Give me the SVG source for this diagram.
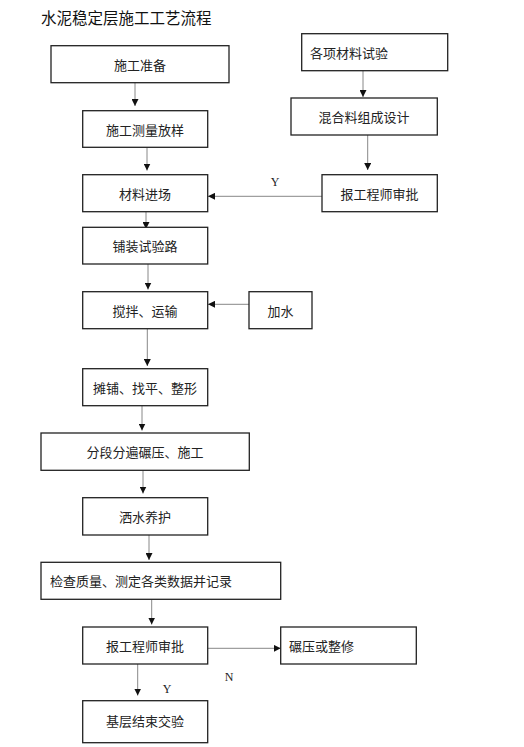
<svg xmlns="http://www.w3.org/2000/svg" width="524" height="747" viewBox="0 0 524 747">
<style>
.box{fill:#fff;stroke:#222;stroke-width:1.3}
.t{font-family:"Noto Sans CJK SC",sans-serif;font-size:13px;fill:#222;dominant-baseline:central}
.c{text-anchor:middle}
.lbl{font-family:"Liberation Serif",serif;font-size:12px;fill:#222;text-anchor:middle;dominant-baseline:central}
.ln{stroke:#888;stroke-width:1;fill:none;marker-end:url(#ah)}
.title{font-family:"Noto Sans CJK SC",sans-serif;font-size:15.5px;fill:#111}
</style>
<defs>
<marker id="ah" markerWidth="7" markerHeight="7" refX="7" refY="3.5" orient="auto" markerUnits="userSpaceOnUse">
<path d="M0,0 L7,3.5 L0,7 Z" fill="#111"/>
</marker>
</defs>
<rect width="524" height="747" fill="#fff"/>
<text class="title" x="41" y="24">水泥稳定层施工工艺流程</text>

<g id="connectors">
<line class="ln" x1="135" y1="82.7" x2="135" y2="106"/>
<line class="ln" x1="147" y1="147.3" x2="147" y2="170.5"/>
<line class="ln" x1="363" y1="70.7" x2="363" y2="97"/>
<line class="ln" x1="367.7" y1="135" x2="367.7" y2="170"/>
<line class="ln" x1="322" y1="196.3" x2="208" y2="196.3"/>
<text class="lbl" x="275" y="182">Y</text>
<line class="ln" x1="146" y1="211.7" x2="146" y2="229"/>
<line class="ln" x1="148" y1="264" x2="148" y2="289.5"/>
<line class="ln" x1="249" y1="304.3" x2="208" y2="304.3"/>
<line class="ln" x1="147.3" y1="328.7" x2="147.3" y2="366"/>
<line class="ln" x1="142" y1="405.7" x2="142" y2="430.5"/>
<line class="ln" x1="143" y1="470.3" x2="143" y2="493.5"/>
<line class="ln" x1="149" y1="535" x2="149" y2="560"/>
<line class="ln" x1="151.7" y1="599.3" x2="151.7" y2="624.5"/>
<line class="ln" x1="207.7" y1="648.3" x2="280.7" y2="648.3"/>
<text class="lbl" x="229" y="677">N</text>
<line class="ln" x1="137.7" y1="664" x2="137.7" y2="695.5"/>
<text class="lbl" x="167" y="689">Y</text>
</g>

<g id="n1"><rect class="box" x="51" y="45.7" width="178" height="37"/><text class="t c" x="140" y="64.5">施工准备</text></g>
<g id="n2"><rect class="box" x="82.7" y="110.7" width="125" height="36.6"/><text class="t c" x="145" y="129">施工测量放样</text></g>
<g id="n3"><rect class="box" x="82.7" y="174.7" width="125" height="37"/><text class="t c" x="145" y="193">材料进场</text></g>
<g id="n4"><rect class="box" x="82.7" y="227.3" width="125" height="36.7"/><text class="t c" x="145" y="245.5">铺装试验路</text></g>
<g id="n5"><rect class="box" x="82.7" y="291.7" width="125" height="37"/><text class="t c" x="145" y="310">搅拌、运输</text></g>
<g id="n5b"><rect class="box" x="249" y="291.7" width="63" height="37"/><text class="t c" x="280.5" y="310">加水</text></g>
<g id="n6"><rect class="box" x="82.7" y="368.7" width="125" height="37"/><text class="t c" x="145" y="387">摊铺、找平、整形</text></g>
<g id="n7"><rect class="box" x="41" y="433" width="208.3" height="37.3"/><text class="t c" x="145" y="451.5">分段分遍碾压、施工</text></g>
<g id="n8"><rect class="box" x="82.7" y="497.7" width="125" height="37.3"/><text class="t c" x="145" y="516">洒水养护</text></g>
<g id="n9"><rect class="box" x="41" y="562.3" width="239.7" height="37"/><text class="t" x="50" y="580.5">检查质量、测定各类数据并记录</text></g>
<g id="n10"><rect class="box" x="82.7" y="627" width="125" height="37"/><text class="t c" x="145" y="645.5">报工程师审批</text></g>
<g id="n10b"><rect class="box" x="280.7" y="627" width="135.6" height="37"/><text class="t" x="289" y="645.5">碾压或整修</text></g>
<g id="n11"><rect class="box" x="82.7" y="700.7" width="125" height="42"/><text class="t c" x="145" y="720">基层结束交验</text></g>

<g id="r1"><rect class="box" x="301.7" y="33.7" width="146" height="37"/><text class="t" x="310" y="52">各项材料试验</text></g>
<g id="r2"><rect class="box" x="291" y="98" width="146.3" height="37"/><text class="t c" x="364" y="116.5">混合料组成设计</text></g>
<g id="r3"><rect class="box" x="322" y="174.7" width="115.3" height="37"/><text class="t c" x="379.5" y="193">报工程师审批</text></g>
</svg>
